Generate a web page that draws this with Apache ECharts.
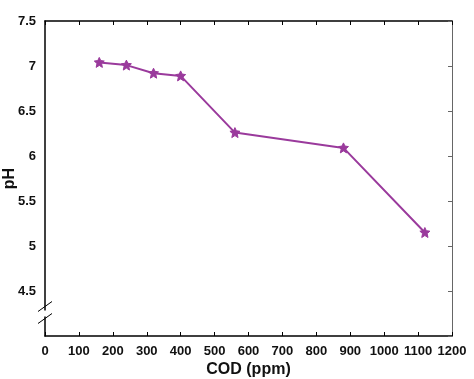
<!DOCTYPE html>
<html><head><meta charset="utf-8">
<script src="https://cdn.jsdelivr.net/npm/echarts@6/dist/echarts.min.js"></script>
<style>html,body{margin:0;padding:0;background:#fff}#c{width:474px;height:379px}</style>
</head><body><div id="c"></div>
<script>
const codValues = [160, 240, 320, 400, 560, 880, 1120];
const phValues = [7.04, 7.01, 6.92, 6.89, 6.26, 6.09, 5.15];
const xTitle = 'COD (ppm)';
const yTitle = 'pH';
const lineColor = '#9a3a9c';
const font = 'Liberation Sans, Arial, sans-serif';
const star = 'path://M50,0 L64,30 L98,35 L72,58 L80,95 L50,76 L20,95 L28,58 L2,35 L36,30 Z';

const chart = echarts.init(document.getElementById('c'), null, {renderer: 'canvas'});
const grid = {left: 45, right: 22, top: 21, bottom: 43, containLabel: false, outerBoundsMode: 'none'};
const lbl = {color: '#111', fontFamily: font, fontWeight: 'bold', fontSize: 13};
chart.setOption({
  animation: false,
  grid: grid,
  xAxis: [{
    type: 'value', min: 0, max: 1200, interval: 100, position: 'bottom',
    name: xTitle, nameLocation: 'middle', nameGap: 26, nameMoveOverlap: false,
    nameTextStyle: {color: '#111', fontFamily: font, fontWeight: 'bold', fontSize: 16},
    axisLine: {show: true, onZero: false, lineStyle: {color: '#000', width: 1.5}},
    axisTick: {show: true, inside: true, length: 4, lineStyle: {color: '#000'}},
    axisLabel: Object.assign({margin: 9, formatter: v => String(v), hideOverlap: false}, lbl),
    splitLine: {show: false}
  }, {
    type: 'value', min: 0, max: 1200, interval: 100, position: 'top',
    axisLine: {show: true, onZero: false, lineStyle: {color: '#000', width: 1.5}},
    axisTick: {show: true, inside: true, length: 4, lineStyle: {color: '#000'}},
    axisLabel: {show: false}, splitLine: {show: false}
  }],
  yAxis: [{
    type: 'value', min: 4, max: 7.5, interval: 0.5, position: 'left',
    name: yTitle, nameLocation: 'middle', nameGap: 27, nameRotate: 90, nameMoveOverlap: false,
    nameTextStyle: {color: '#111', fontFamily: font, fontWeight: 'bold', fontSize: 16},
    axisLine: {show: true, onZero: false, lineStyle: {color: '#000', width: 1.5}},
    axisTick: {show: false},
    axisLabel: Object.assign({margin: 9, formatter: v => v === 4 ? '' : String(v)}, lbl),
    splitLine: {show: false}
  }, {
    type: 'value', min: 4, max: 7.5, interval: 0.5, position: 'right',
    axisLine: {show: true, onZero: false, lineStyle: {color: '#666', width: 1}},
    axisTick: {show: true, inside: true, length: 4, lineStyle: {color: '#666'}},
    axisLabel: {show: false}, splitLine: {show: false}
  }],
  series: [{
    type: 'line',
    data: codValues.map((x, i) => [x, phValues[i]]),
    color: lineColor,
    lineStyle: {width: 2, color: lineColor},
    symbol: star, symbolSize: 10, showSymbol: true,
    itemStyle: {color: lineColor, borderColor: lineColor, borderWidth: 1}
  }]
});

// Axis break marks on left axis between 4 and 4.5
const bx = chart.convertToPixel({xAxisIndex: 0}, 0);
const by = chart.convertToPixel({yAxisIndex: 0}, 4.25);
chart.setOption({
  graphic: [
    {type: 'rect', shape: {x: bx - 3, y: by - 3, width: 6, height: 6}, style: {fill: '#fff'}, z: 100},
    {type: 'line', shape: {x1: bx - 7, y1: by - 2, x2: bx + 7, y2: by - 12}, style: {stroke: '#000', lineWidth: 1}, z: 101},
    {type: 'line', shape: {x1: bx - 7, y1: by + 10, x2: bx + 7, y2: by}, style: {stroke: '#000', lineWidth: 1}, z: 101}
  ]
});
</script></body></html>
